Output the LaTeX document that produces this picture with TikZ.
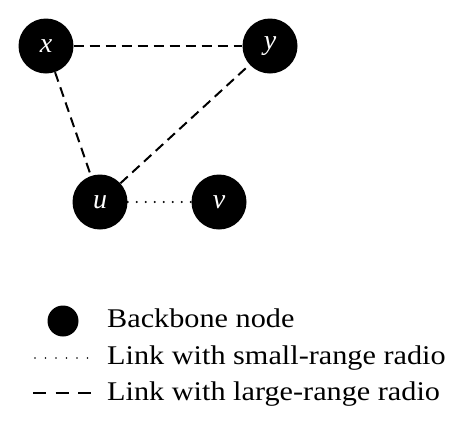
\documentclass[tikz,border=0pt]{standalone}
\usepackage{fontspec}
\setmainfont{Liberation Serif}
\usetikzlibrary{positioning}
\begin{document}
\begin{tikzpicture}[x=1pt, y=-1pt]
  %
  \tikzstyle{bb} = [circle, fill=black, minimum size=55pt, inner sep=0pt, text=white, font=\fontsize{28}{28}\selectfont\itshape]
  \tikzstyle{large} = [line width=2pt, dash pattern=on 10pt off 6pt]
  \tikzstyle{small} = [line width=2.2pt, line cap=round, dash pattern=on 0pt off 9pt]
  \tikzstyle{lgd} = [anchor=base west, inner sep=0pt, xscale=1.12, font=\fontsize{27}{27}\selectfont]
  \useasboundingbox (0,0) rectangle (474,437);
  % backbone
  \node[bb] (x) at (46,46) {x};
  \node[bb] (y) at (270,46) {y};
  \node[bb] (u) at (100,202) {u};
  \node[bb] (v) at (219,202) {v};
  \draw[large] (x) -- (y);
  \draw[large] (x) -- (u);
  \draw[large] (u) -- (y);
  \draw[small] (u) -- (v);
  % legend
  \node[circle, fill=black, minimum size=31pt, inner sep=0pt] (dot) at (63,321) {};
  \node[lgd] (t1) at (107,327) {Backbone node};
  \node[lgd] (t2) at (107,364) {Link with small-range radio};
  \node[lgd] (t3) at (107,400) {Link with large-range radio};
  \coordinate (s1) at (35,358);
  \coordinate (s2) at (88,358);
  \coordinate (l1) at (33,393);
  \coordinate (l2) at (91,393);
  \draw[small, line width=1.8pt, dash pattern=on 0pt off 10.5pt] (s1) -- (s2);
  \draw[large, dash pattern=on 13pt off 9.5pt] (l1) -- (l2);
\end{tikzpicture}
\end{document}
